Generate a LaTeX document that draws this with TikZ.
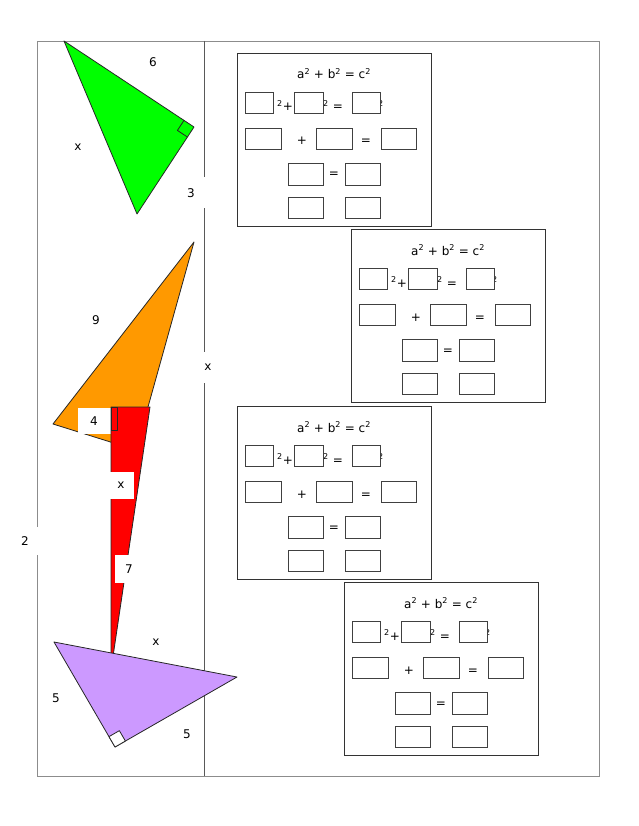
\documentclass[tikz,border=0pt]{standalone}
\usepackage{fontspec}
\setmainfont{DejaVu Sans}
\usetikzlibrary{calc}
\definecolor{leafgreen}{HTML}{00FF00}
\definecolor{warmorange}{HTML}{FF9900}
\definecolor{brightred}{HTML}{FF0000}
\definecolor{lilac}{HTML}{CC99FF}

\begin{document}
\begin{tikzpicture}
[
    x=1pt, y=-1pt,
    every node/.style={font=\fontsize{12}{14}\selectfont, inner sep=0pt},
    frameline/.style={draw=black!45, line width=0.9pt},
    divider/.style={draw=black!65, line width=1pt},
    tri/.style={draw=black!85, line width=0.8pt, line join=round},
    tag/.style={fill=white, minimum size=28pt},
    card/.style={draw=black!80, line width=0.9pt, anchor=north west,
                 minimum width=194pt, minimum height=173pt},
    cell/.style={draw=black!75, fill=white, line width=0.9pt, anchor=north west,
                 minimum height=21pt},
]
\useasboundingbox (0,0) rectangle (638,826);

% frame and divider
\draw[frameline] (37,41) rectangle (599,776);
\coordinate (divtop) at (204,41);
\coordinate (divbot) at (204,776);
\draw[divider] (divtop) -- (divbot);

% green triangle
\coordinate (green1) at (64,41);
\coordinate (green2) at (194,127);
\coordinate (green3) at (137,214);
\draw[tri, fill=leafgreen] (green1) -- (green2) -- (green3) -- cycle;
\coordinate (gmarka) at ($(green2)!12pt!(green1)$);
\coordinate (gmarkc) at ($(green2)!12pt!(green3)$);
\draw[tri] (gmarka) -- ($(gmarka)+(gmarkc)-(green2)$) -- (gmarkc);

% orange triangle
\coordinate (orange1) at (194,242);
\coordinate (orange2) at (53,424);
\coordinate (orange3) at (136,450);
\draw[tri, fill=warmorange] (orange1) -- (orange2) -- (orange3) -- cycle;
\node[tag, minimum width=33pt, minimum height=26pt] (lbl4) at (94,421) {4};

% red triangle
\coordinate (red1) at (111,407);
\coordinate (red2) at (150,407);
\coordinate (red3) at (111,670);
\draw[tri, fill=brightred] (red1) -- (red2) -- (red3) -- cycle;
\draw[tri, fill=brightred] (red1) rectangle (117,430);

% purple triangle
\coordinate (lilac1) at (54,642);
\coordinate (lilac2) at (237,677);
\coordinate (lilac3) at (115,747);
\draw[tri, fill=lilac] (lilac1) -- (lilac2) -- (lilac3) -- cycle;
\coordinate (pmarka) at ($(lilac3)!12pt!(lilac1)$);
\coordinate (pmarkc) at ($(lilac3)!12pt!(lilac2)$);
\draw[tri, fill=white] (lilac3) -- (pmarka) -- ($(pmarka)+(pmarkc)-(lilac3)$) -- (pmarkc) -- cycle;

% side labels
\node (lbl6) at (153,62) {6};
\node (lblgx) at (78,147) {x};
\node[tag, minimum width=30pt, minimum height=31pt] (lbl3) at (191,193) {3};
\node (lbl9) at (96,320) {9};
\node[tag, minimum height=31pt] (lblox) at (208,367) {x};
\node[tag, minimum width=26pt, minimum height=27pt] (lblrx) at (121,485) {x};
\node[tag] (lbl7) at (129,569) {7};
\node[tag] (lbl2) at (25,541) {2};
\node (lblpx) at (156,642) {x};
\node (lbl5a) at (56,698) {5};
\node[tag] (lbl5b) at (187,734) {5};

% worksheet cards
\foreach \cx/\cy/\k in {237/53/1, 351/229/2, 237/406/3, 344/582/4}
{
  \begin{scope}[shift={(\cx,\cy)}]
    \node[card] (card\k) at (0,0) {};
    \node[anchor=base] (rule\k) at (97,26)
      {a\textsuperscript{2} + b\textsuperscript{2} = c\textsuperscript{2}};
    % row 1
    \node[anchor=base west] (supa\k) at (40,58) {\textsuperscript{2}+};
    \node[anchor=base west] (supb\k) at (86,58) {\textsuperscript{2}};
    \node[anchor=base] (eqa\k) at (101,58) {=};
    \node[anchor=base west] (supc\k) at (141,58) {\textsuperscript{2}};
    \node[cell, minimum width=28pt] (cellA\k) at (8,39) {};
    \node[cell, minimum width=29pt] (cellB\k) at (57,39) {};
    \node[cell, minimum width=28pt] (cellC\k) at (115,39) {};
    % row 2
    \node[anchor=base] (plusb\k) at (65,92) {+};
    \node[anchor=base] (eqb\k) at (129,92) {=};
    \node[cell, minimum width=36pt] (cellD\k) at (8,75) {};
    \node[cell, minimum width=36pt] (cellE\k) at (79,75) {};
    \node[cell, minimum width=35pt] (cellF\k) at (144,75) {};
    % row 3
    \node[anchor=base] (eqc\k) at (97,125) {=};
    \node[cell, minimum width=35pt, minimum height=22pt] (cellG\k) at (51,110) {};
    \node[cell, minimum width=35pt, minimum height=22pt] (cellH\k) at (108,110) {};
    % row 4
    \node[cell, minimum width=35pt] (cellI\k) at (51,144) {};
    \node[cell, minimum width=35pt] (cellJ\k) at (108,144) {};
  \end{scope}
}
\end{tikzpicture}
\end{document}
